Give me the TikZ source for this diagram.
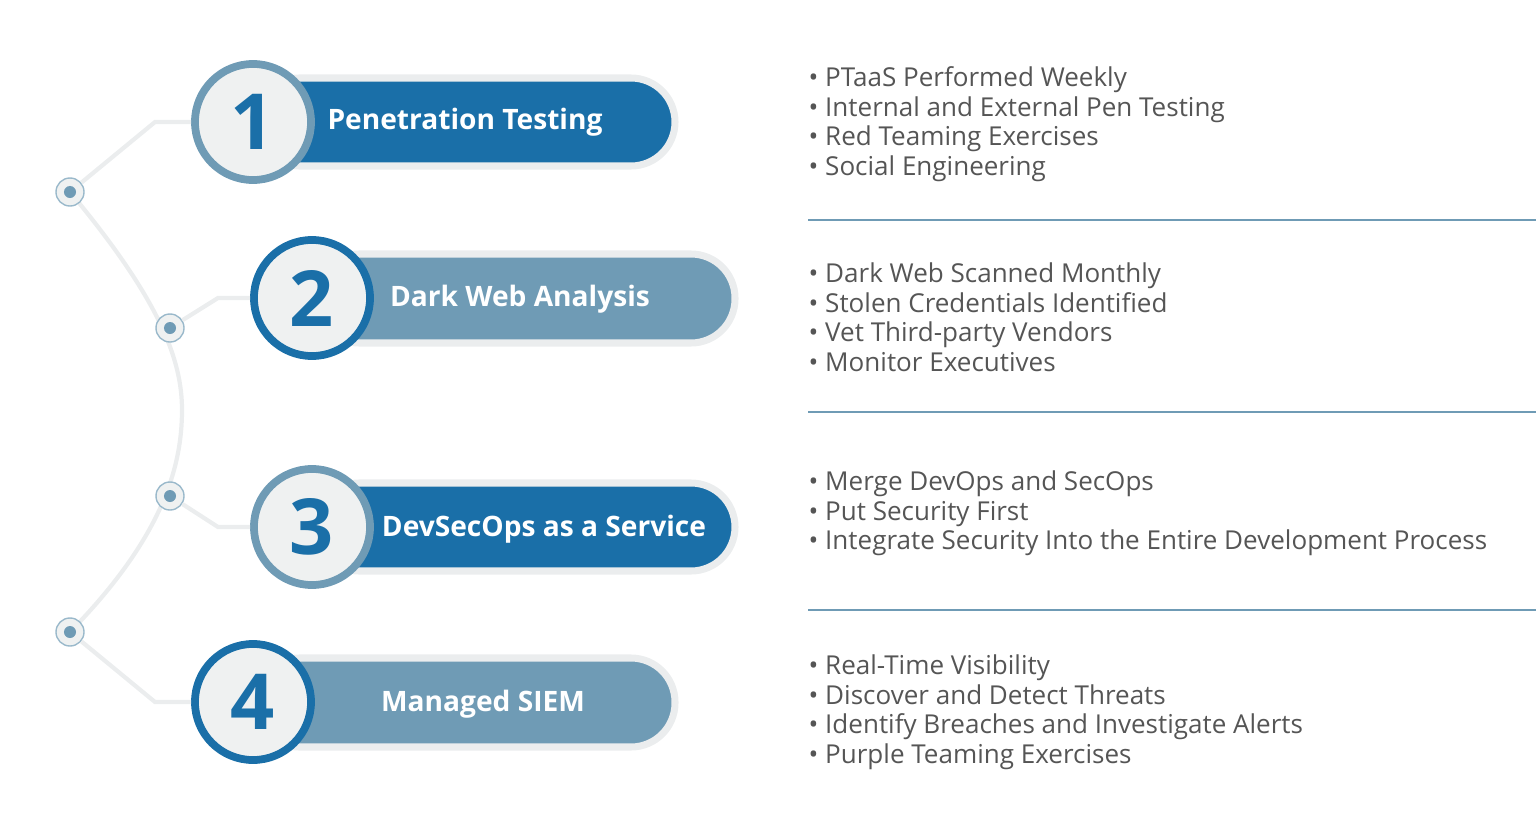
\documentclass[tikz,border=0pt]{standalone}
\usepackage{fontspec}
\setmainfont{Open Sans}
\usetikzlibrary{positioning}
\definecolor{deepblue}{HTML}{1A6FA8}
\definecolor{paleblue}{HTML}{6F9BB5}
\definecolor{discfill}{HTML}{EFF1F1}
\definecolor{railgrey}{HTML}{EBEDEE}
\definecolor{bodytext}{HTML}{555555}
\tikzset{
  pill/.style={rounded corners=0.44cm, draw=railgrey, line width=2pt},
  disc/.style={circle, fill=discfill, line width=2.2pt, minimum size=1.16cm, inner sep=0pt,
    font=\fontsize{22}{22}\selectfont\bfseries, text=deepblue},
  title/.style={text=white, font=\fontsize{8}{8}\selectfont\bfseries},
  rail/.style={railgrey, line width=1.2pt},
  knob/.style={circle, draw=paleblue!70, line width=0.4pt, fill=discfill, minimum size=0.28cm, inner sep=0pt},
  knobdot/.style={circle, fill=paleblue, minimum size=0.12cm, inner sep=0pt},
  items/.style={text=bodytext, align=left, anchor=north west, inner sep=0pt,
    font=\fontsize{7.4}{8.4}\selectfont},
  rule/.style={paleblue, line width=0.5pt}
}
\begin{document}
\begin{tikzpicture}[x=0.01cm,y=-0.01cm]
\useasboundingbox (0,0) rectangle (1536,821);
% Rail
\draw[rail] (70,192) .. controls (160,300) and (182,360) .. (182,410)
  .. controls (182,470) and (160,540) .. (70,632);
\foreach \y/\n in {192/k1,632/k4} \node[knob] (\n) at (70,\y) {};
\foreach \y/\n in {328/k2,496/k3} \node[knob] (\n) at (170,\y) {};
\foreach \n in {k1,k2,k3,k4} \node[knobdot] at (\n) {};
% Pills
\fill[deepblue, pill] (255,78) rectangle (675,166);
\fill[paleblue, pill] (315,254) rectangle (735,343);
\fill[deepblue, pill] (315,483) rectangle (735,571);
\fill[paleblue, pill] (255,658) rectangle (675,747);
\node[title] (t1) at (465,122) {Penetration Testing};
\node[title] (t2) at (520,299) {Dark Web Analysis};
\node[title] (t3) at (544,529) {DevSecOps as a Service};
\node[title] (t4) at (483,704) {Managed SIEM};
% Discs
\node[disc, draw=paleblue] (d1) at (253,122) {1};
\node[disc, draw=deepblue] (d2) at (312,298) {2};
\node[disc, draw=paleblue] (d3) at (312,527) {3};
\node[disc, draw=deepblue] (d4) at (253,702) {4};
\draw[rail] (k1) -- (155,122) -- (d1);
\draw[rail] (k2) -- (218,298) -- (d2);
\draw[rail] (k3) -- (218,527) -- (d3);
\draw[rail] (k4) -- (155,702) -- (d4);
% Lists
\node[items] (l1) at (808,66) {• PTaaS Performed Weekly\\• Internal and External Pen Testing\\• Red Teaming Exercises\\• Social Engineering};
\node[items] (l2) at (808,262) {• Dark Web Scanned Monthly\\• Stolen Credentials Identified\\• Vet Third-party Vendors\\• Monitor Executives};
\node[items] (l3) at (808,470) {• Merge DevOps and SecOps\\• Put Security First\\• Integrate Security Into the Entire Development Process};
\node[items] (l4) at (808,654) {• Real-Time Visibility\\• Discover and Detect Threats\\• Identify Breaches and Investigate Alerts\\• Purple Teaming Exercises};
\foreach \y in {220,412,610} \draw[rule] (808,\y) -- (1536,\y);
\end{tikzpicture}
\end{document}
